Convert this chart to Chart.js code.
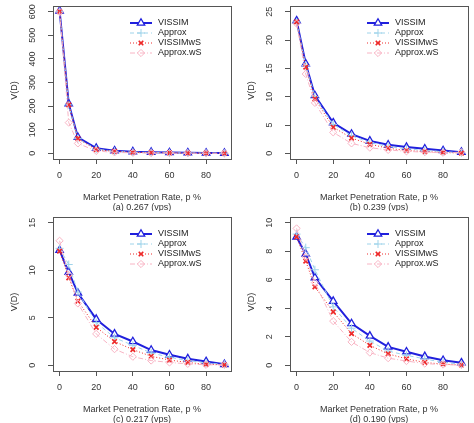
<!DOCTYPE html>
<html>
<head>
<meta charset="utf-8">
<script src="https://cdn.jsdelivr.net/npm/chart.js@4.4.1/dist/chart.umd.min.js"></script>
<style>
  body { margin: 0; background: #fff; }
  #wrap { position: relative; width: 474px; height: 423px; }
  canvas { position: absolute; }
</style>
</head>
<body>
<div id="wrap">
  <canvas id="pa" width="237" height="211" style="left:0;top:0"></canvas>
  <canvas id="pb" width="237" height="211" style="left:237px;top:0"></canvas>
  <canvas id="pc" width="237" height="212" style="left:0;top:211px"></canvas>
  <canvas id="pd" width="237" height="212" style="left:237px;top:211px"></canvas>
</div>
<script>
// market penetration rate, p %
const pRate = [0, 5, 10, 20, 30, 40, 50, 60, 70, 80, 90];
const xTicks = [0, 20, 40, 60, 80];
const seriesNames = ["VISSIM", "Approx", "VISSIMwS", "Approx.wS"];

// (a) 0.267 vps
const vissimA   = [603, 210, 68, 22, 11, 7, 5, 3.5, 2.5, 1.5, 1];
const approxA   = [600, 205, 62, 18, 9, 5, 3.5, 2.5, 1.5, 1, 0.5];
const vissimWsA = [600, 205, 62, 16, 8, 4, 3, 2, 1, 0.5, 0.3];
const approxWsA = [600, 130, 42, 10, 4, 2, 1.5, 1, 0.5, 0.3, 0.2];
const yTicksA = [0, 100, 200, 300, 400, 500, 600];

// (b) 0.239 vps
const vissimB   = [23.4, 15.8, 10.2, 5.4, 3.4, 2.2, 1.5, 1.1, 0.8, 0.5, 0.2];
const approxB   = [23.2, 15.5, 10.0, 5.1, 3.1, 1.9, 1.2, 0.8, 0.5, 0.3, 0.1];
const vissimWsB = [23.2, 15.2, 9.6, 4.6, 2.7, 1.6, 0.9, 0.5, 0.3, 0.15, 0.05];
const approxWsB = [22.9, 14.0, 8.9, 3.7, 1.75, 1.0, 0.6, 0.35, 0.2, 0.1, 0.2];
const yTicksB = [0, 5, 10, 15, 20, 25];

// (c) 0.217 vps
const vissimC   = [12.1, 9.8, 7.6, 4.85, 3.3, 2.5, 1.6, 1.1, 0.7, 0.4, 0.1];
const approxC   = [12.3, 10.6, 7.7, 4.5, 2.9, 2.1, 1.3, 0.85, 0.5, 0.25, 0.1];
const vissimWsC = [12.0, 9.2, 6.75, 4.0, 2.5, 1.65, 0.95, 0.55, 0.3, 0.1, 0.05];
const approxWsC = [13.1, 9.5, 6.5, 3.3, 1.7, 0.9, 0.5, 0.3, 0.15, 0.05, 0.05];
const yTicksC = [0, 5, 10, 15];

// (d) 0.190 vps
const vissimD   = [9.0, 7.8, 6.15, 4.5, 2.93, 2.06, 1.29, 0.95, 0.62, 0.35, 0.18];
const approxD   = [9.2, 8.25, 6.7, 4.1, 2.6, 1.7, 1.0, 0.7, 0.45, 0.2, 0.08];
const vissimWsD = [9.0, 7.3, 5.5, 3.75, 2.22, 1.4, 0.8, 0.45, 0.2, 0.08, 0.02];
const approxWsD = [9.6, 7.6, 5.8, 3.1, 1.64, 0.89, 0.5, 0.3, 0.12, 0.05, 0.02];
const yTicksD = [0, 2, 4, 6, 8, 10];

const styles = [
  { color: "#2020dd", width: 2, dash: [], point: "triangle", r: 4.3, pw: 1.3, fillC: "#fff" },
  { color: "#9ed3ea", width: 1, dash: [4, 3], point: "cross", r: 4, pw: 1, fillC: "rgba(0,0,0,0)" },
  { color: "#ee2a2a", width: 1, dash: [1, 2], point: "crossRot", r: 3.2, pw: 1.7, fillC: "rgba(0,0,0,0)" },
  { color: "#f8b4c4", width: 1, dash: [5, 2, 1, 2], point: "rectRot", r: 3.6, pw: 1, fillC: "rgba(255,255,255,0)" },
];

const FONT = "'Liberation Sans', Arial, sans-serif";
Chart.defaults.font.family = FONT;
Chart.defaults.font.size = 9;
Chart.defaults.color = "#222";

// R style: extend the range by 4% on each side
const ext = (lo, hi) => [lo - (hi - lo) * 0.04, hi + (hi - lo) * 0.04];

const boxPlugin = {
  id: "rBox",
  afterDraw(chart) {
    const { ctx, chartArea: a } = chart;
    ctx.save();
    ctx.strokeStyle = "#555";
    ctx.lineWidth = 1;
    ctx.strokeRect(Math.round(a.left) + 0.5, Math.round(a.top) + 0.5,
      Math.round(a.right - a.left), Math.round(a.bottom - a.top));
    // y axis label, a little below the plot centre as in the source figure
    ctx.translate(a.left - 38, (a.top + a.bottom) / 2 + 8);
    ctx.rotate(-Math.PI / 2);
    ctx.fillStyle = "#333";
    ctx.font = "9px " + FONT;
    ctx.textAlign = "center";
    ctx.textBaseline = "middle";
    ctx.fillText("V(D)", 0, 0);
    ctx.restore();
  },
};

const legendPlugin = {
  id: "rLegend",
  afterDatasetsDraw(chart) {
    const { ctx, chartArea: a } = chart;
    ctx.save();
    chart.data.datasets.forEach((ds, i) => {
      const y = a.top + 17 + i * 10;
      const x0 = a.left + 77;
      ctx.strokeStyle = ds.borderColor;
      ctx.lineWidth = ds.borderWidth;
      ctx.setLineDash(ds.borderDash);
      ctx.beginPath();
      ctx.moveTo(x0, y);
      ctx.lineTo(x0 + 22, y);
      ctx.stroke();
      ctx.setLineDash([]);
      ctx.fillStyle = ds.pointBackgroundColor;
      ctx.lineWidth = ds.pointBorderWidth;
      Chart.helpers.drawPoint(ctx, {
        pointStyle: ds.pointStyle, radius: ds.pointRadius,
        borderWidth: ds.pointBorderWidth, rotation: 0,
      }, x0 + 11, y);
      ctx.fillStyle = "#222";
      ctx.font = "9px " + FONT;
      ctx.textBaseline = "middle";
      ctx.textAlign = "left";
      ctx.fillText(ds.label, x0 + 28, y);
    });
    ctx.restore();
  },
};

function makePanel(id, series, yTicks, caption, yLabelPad) {
  const [xMin, xMax] = ext(0, 90);
  const [yMin, yMax] = ext(yTicks[0], yTicks[yTicks.length - 1]);
  const datasets = series.map((vals, i) => {
    const s = styles[i];
    return {
      label: seriesNames[i],
      data: pRate.map((p, k) => ({ x: p, y: vals[k] })),
      borderColor: s.color,
      borderWidth: s.width,
      borderDash: s.dash,
      pointStyle: s.point,
      pointRadius: s.r,
      pointBorderWidth: s.pw,
      pointBorderColor: s.color,
      pointBackgroundColor: s.fillC,
      fill: false,
      tension: 0,
      order: series.length - i,
    };
  });

  new Chart(document.getElementById(id), {
    type: "line",
    data: { datasets },
    options: {
      responsive: false,
      animation: false,
      layout: { padding: { top: 6, right: 6, left: 0, bottom: 0 } },
      plugins: { legend: { display: false }, tooltip: { enabled: false } },
      scales: {
        x: {
          type: "linear",
          min: xMin,
          max: xMax,
          afterBuildTicks: (s) => { s.ticks = xTicks.map((v) => ({ value: v })); },
          afterFit: (s) => { s.height = 52; s.paddingLeft = 0; s.paddingRight = 0; },
          grid: { display: true, drawOnChartArea: false, drawTicks: true, tickLength: 5, color: "#555" },
          border: { display: false },
          ticks: { padding: 6, color: "#333", maxRotation: 0, autoSkip: false },
          title: {
            display: true,
            text: ["Market Penetration Rate, p %", caption],
            color: "#333",
            font: { lineHeight: 1.18 },
            padding: { top: 0, bottom: -2 },
          },
        },
        y: {
          type: "linear",
          min: yMin,
          max: yMax,
          afterBuildTicks: (s) => { s.ticks = yTicks.map((v) => ({ value: v })); },
          afterFit: (s) => { s.width = 53; s.paddingTop = 0; s.paddingBottom = 0; },
          grid: { display: true, drawOnChartArea: false, drawTicks: true, tickLength: 5, color: "#555" },
          border: { display: false },
          ticks: { padding: yLabelPad, color: "#333", minRotation: 90, maxRotation: 90, crossAlign: "center", autoSkip: false },
          title: { display: false },
        },
      },
    },
    plugins: [boxPlugin, legendPlugin],
  });
}

makePanel("pa", [vissimA, approxA, vissimWsA, approxWsA], yTicksA, "(a) 0.267 (vps)", 8);
makePanel("pb", [vissimB, approxB, vissimWsB, approxWsB], yTicksB, "(b) 0.239 (vps)", 10);
makePanel("pc", [vissimC, approxC, vissimWsC, approxWsC], yTicksC, "(c) 0.217 (vps)", 10);
makePanel("pd", [vissimD, approxD, vissimWsD, approxWsD], yTicksD, "(d) 0.190 (vps)", 10);
</script>
</body>
</html>
